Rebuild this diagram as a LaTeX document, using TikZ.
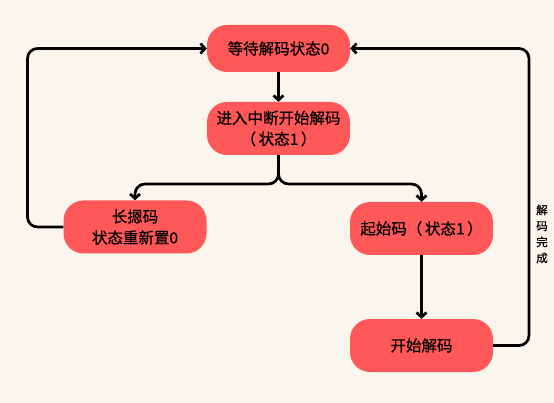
\documentclass[tikz,border=0pt]{standalone}
\usepackage{fontspec}
\setmainfont{Noto Sans CJK SC}[FakeBold=0.6]
\usetikzlibrary{arrows.meta}
\definecolor{bg}{HTML}{FAF6EE}
\definecolor{nodered}{HTML}{FF5858}
\begin{document}
\begin{tikzpicture}[x=1pt,y=-1pt,
 box/.style={fill=nodered, rounded corners=20pt, minimum width=143pt, minimum height=53pt, align=center, font=\fontsize{15.5}{21}\selectfont, inner sep=0pt},
 conn/.style={line width=2.7pt, -{Straight Barb[length=4.5pt,width=10pt]}, rounded corners=10pt},
 lbl/.style={align=center, font=\fontsize{11.5}{16}\selectfont, inner sep=0pt}]
\fill[bg] (0,0) rectangle (554,403);
\useasboundingbox (0,0) rectangle (554,403);
\node[box, minimum height=47pt] (n0) at (278.5,48.5) {等待解码状态0};
\node[box] (n1) at (278.5,128.5) {进入中断开始解码\\（\,状态1\,）};
\node[box] (n2) at (135,227) {长摁码\\状态重新置0};
\node[box] (n3) at (421.5,228.5) {起始码（\,状态1\,）};
\node[box] (n4) at (421.5,345.5) {开始解码};
\coordinate (split) at (278.5,184);
\coordinate (lft) at (27.5,227);
\coordinate (rgt) at (529,345.5);
\draw[conn] (n0.south) -- (n1.north);
\draw[conn] (n1.south) -- (split) -| (n2.north);
\draw[conn] (n1.south) -- (split) -| (n3.north);
\draw[conn] (n3.south) -- (n4.north);
\draw[conn] (n2.west) -- (lft) |- (n0.west);
\draw[conn] (n4.east) -- (rgt) |- (n0.east);
\node[lbl] (done) at (542,234) {解\\码\\完\\成};
\end{tikzpicture}
\end{document}
